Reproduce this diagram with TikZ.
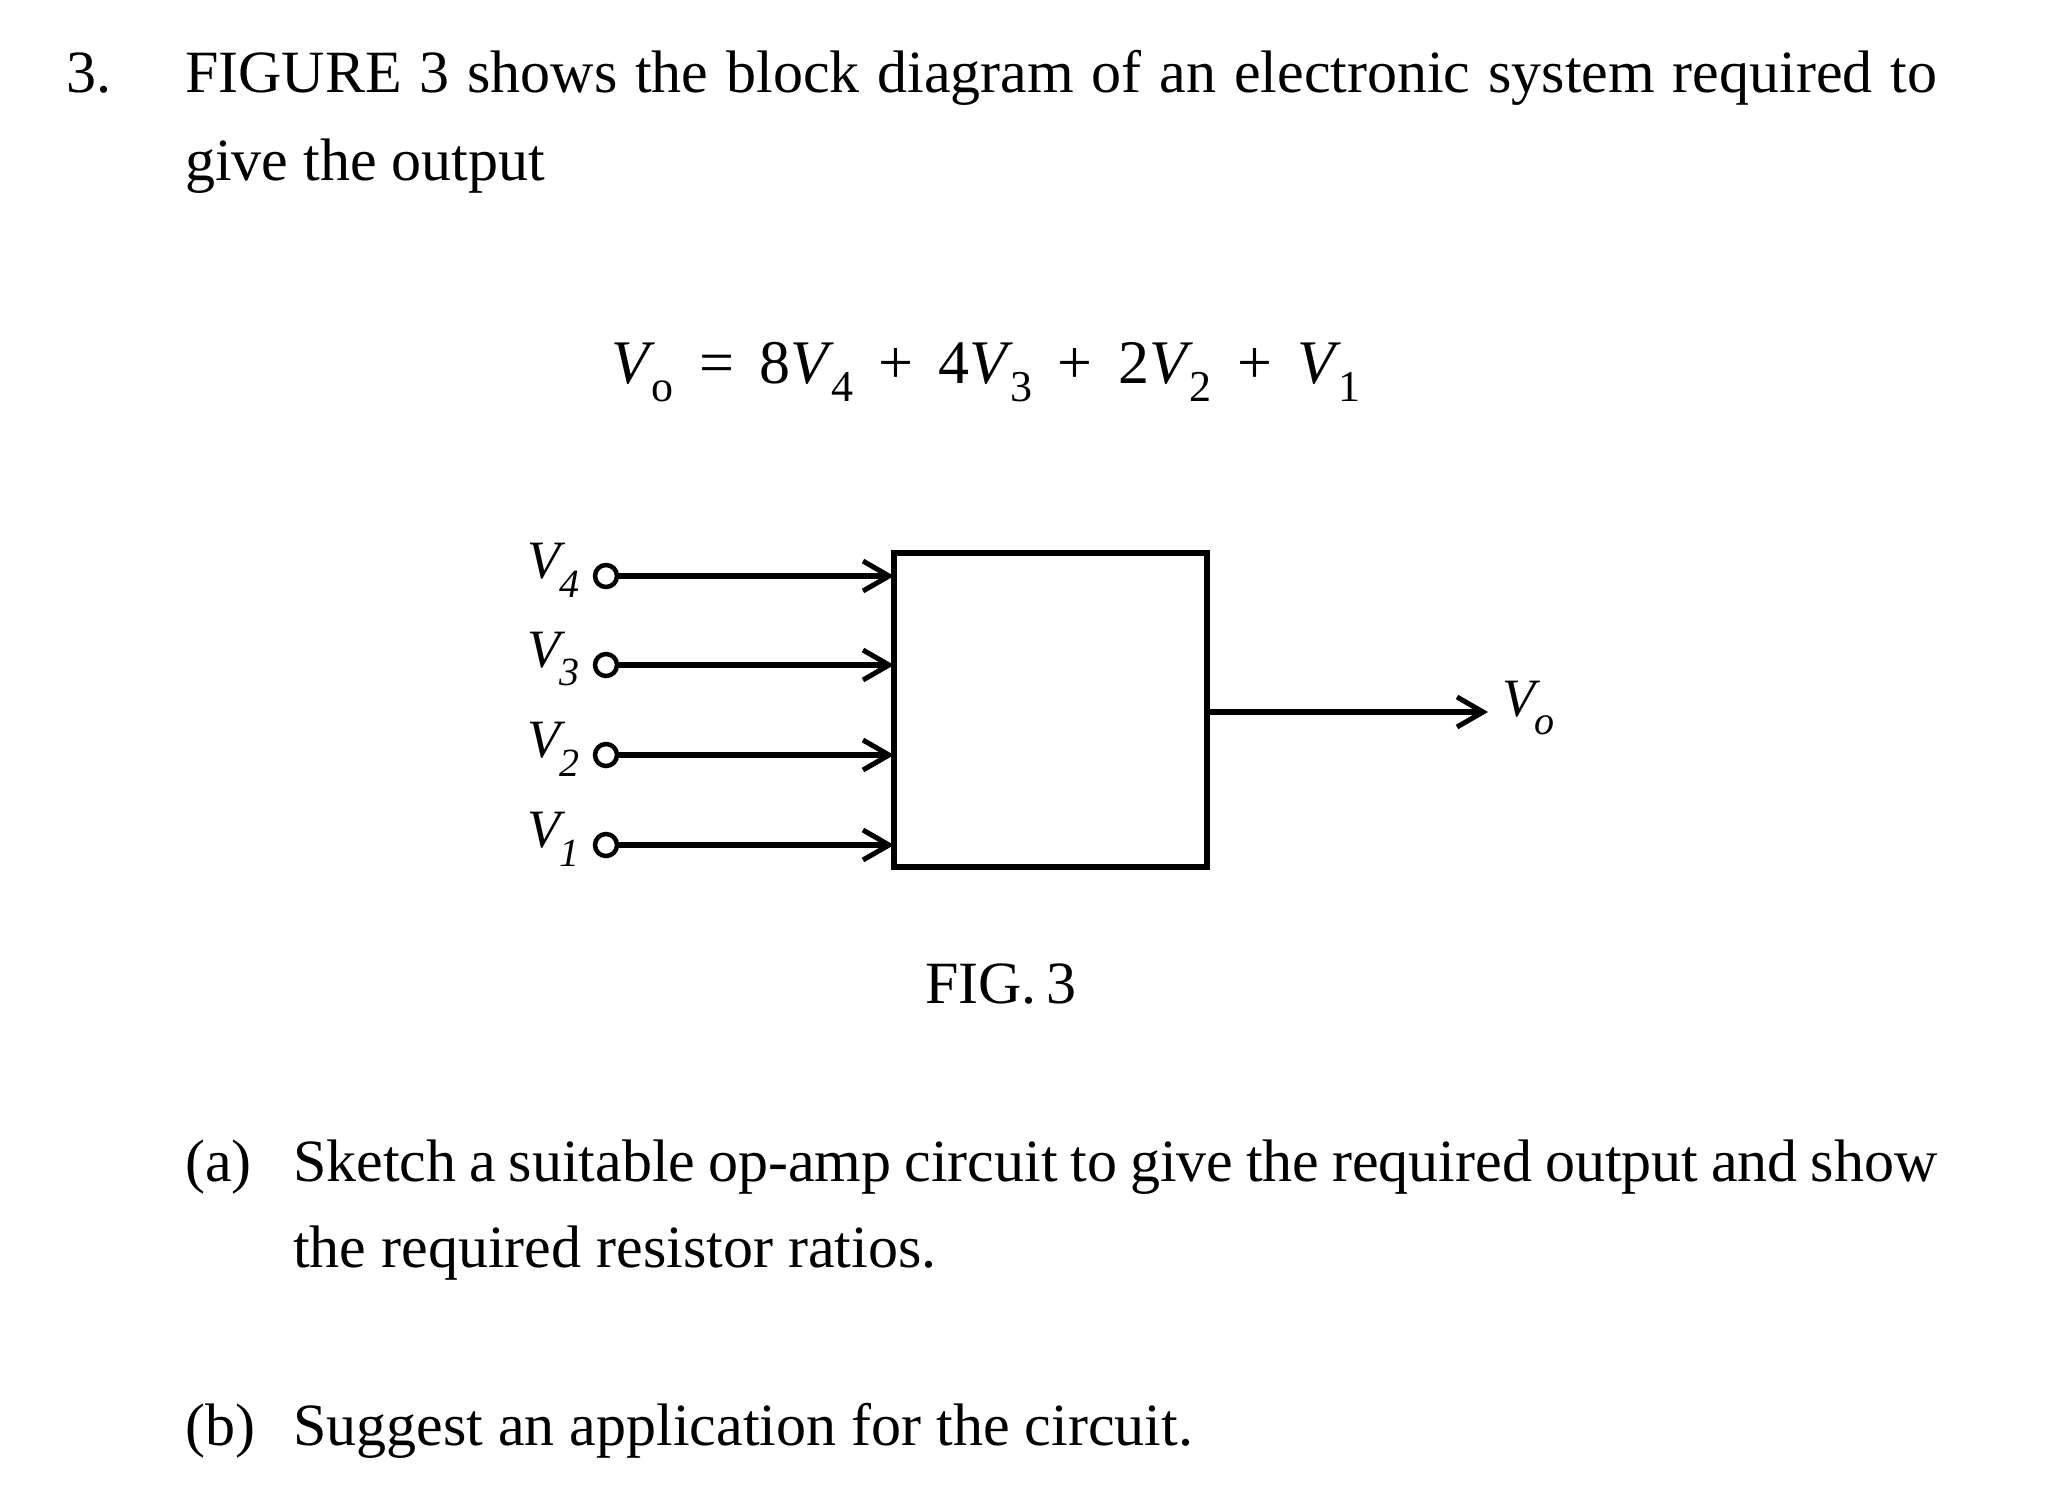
\documentclass[tikz,border=0pt]{standalone}
\usepackage{fontspec}
\setmainfont{Liberation Serif}
\usetikzlibrary{arrows.meta}
\newcommand{\VV}[1]{\textit{V}\kern-0.05em\raisebox{-0.3em}{\fontsize{44}{46}\selectfont #1}}
\newcommand{\VL}[1]{\textit{V}\kern-0.1em\raisebox{-0.35em}{\fontsize{40}{44}\selectfont\itshape #1}}
\begin{document}
\begin{tikzpicture}[x=1pt,y=-1pt,
  txt/.style={anchor=base west,inner sep=0pt,font=\fontsize{60}{72}\selectfont},
  lbl/.style={inner sep=0pt,font=\fontsize{54}{60}\selectfont},
  wire/.style={line width=6pt},
  arr/.style={wire,-{Straight Barb[length=26pt,width=30pt,line width=5pt]}},
  term/.style={circle,draw,line width=4.5pt,minimum size=22pt,inner sep=0pt,fill=white}]
\useasboundingbox (0,0) rectangle (2046,1494);
\node[txt] (num) at (66,92) {3.};
\node[txt] (l1) at (185,92) {\makebox[1752pt][s]{FIGURE 3 shows the block diagram of an electronic system required to}};
\node[txt] (l2) at (185,180) {give the output};
\node[txt,font=\fontsize{62}{72}\selectfont] (eq) at (611,383) {\makebox[749pt][s]{\VV{o} = 8\VV{4} + 4\VV{3} + 2\VV{2} + \VV{1}}};
\node[draw,line width=6pt,minimum width=313pt,minimum height=314pt,inner sep=0pt] (box) at (1050.5,710) {};
\foreach \i/\y in {4/576,3/665,2/755,1/845}{
  \node[term] (t\i) at (606,\y) {};
  \node[lbl,anchor=east] (v\i) at (580,\y-6) {\VL{\i}};
  \coordinate (e\i) at (894,\y);
  \draw[arr] (t\i) -- (e\i);
}
\coordinate (out) at (1488,712);
\draw[arr] (box.east |- out) -- (out);
\node[lbl,anchor=west] (vo) at (1502,708) {\VL{o}};
\node[txt,anchor=base] (fig) at (1001,1003) {FIG.\,3};
\node[txt] (a) at (185,1181) {(a)};
\node[txt] (a1) at (293,1181) {\makebox[1644pt][s]{Sketch a suitable op-amp circuit to give the required output and show}};
\node[txt] (a2) at (293,1267) {the required resistor ratios.};
\node[txt] (b) at (185,1445) {(b)};
\node[txt] (b1) at (293,1445) {Suggest an application for the circuit.};
\end{tikzpicture}
\end{document}
